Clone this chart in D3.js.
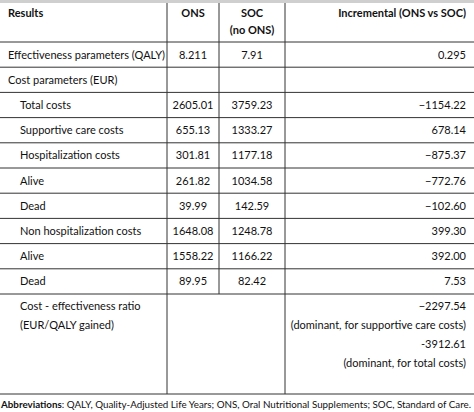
<!DOCTYPE html>
<html><head><meta charset="utf-8">
<script src="https://cdn.jsdelivr.net/npm/d3@7"></script>
<style>body{margin:0;background:#fff}text{font-family:Lato,"Open Sans",sans-serif;font-size:11px;fill:#111}</style>
</head><body><svg id="t" width="474" height="412"></svg>
<script>
"use strict";
const headers = [["Results"], ["ONS"], ["SOC", "(no ONS)"], ["Incremental (ONS vs SOC)"]];
const labels = ["Effectiveness parameters (QALY)", "Cost parameters (EUR)", "Total costs", "Supportive care costs",
  "Hospitalization costs", "Alive", "Dead", "Non hospitalization costs", "Alive", "Dead"];
const indented = [false, false, true, true, true, true, true, true, true, true];
const onsValues = ["8.211", "", "2605.01", "655.13", "301.81", "261.82", "39.99", "1648.08", "1558.22", "89.95"];
const socValues = ["7.91", "", "3759.23", "1333.27", "1177.18", "1034.58", "142.59", "1248.78", "1166.22", "82.42"];
const incValues = ["0.295", "", "\u22121154.22", "678.14", "\u2212875.37", "\u2212772.76", "\u2212102.60", "399.30", "392.00", "7.53"];
const ratioLabel = ["Cost - effectiveness ratio", "(EUR/QALY gained)"];
const ratioValues = ["\u22122297.54", "(dominant, for supportive care costs)", "-3912.61", "(dominant, for total costs)"];
const footBold = "Abbreviations";
const footText = ": QALY, Quality-Adjusted Life Years; ONS, Oral Nutritional Supplements; SOC, Standard of Care.";

const svg = d3.select('#t');
const W = 474;
const colX = [0, 167, 219, 285, W];
const headerH = 42, rowH = 25.2, ratioH = 100;
const y0 = headerH;
const rowY = d3.scaleLinear().domain([0, labels.length]).range([y0, y0 + rowH * labels.length]);
const yEnd = rowY(labels.length) + ratioH;
const line = '#333';

svg.append('rect').attr('x', 0).attr('y', 0).attr('width', W).attr('height', 3).attr('fill', '#cfcfcf');
// horizontal lines
const hs = [headerH].concat(d3.range(1, labels.length + 1).map(rowY));
svg.selectAll('line.h').data(hs).enter().append('line')
  .attr('x1', 0).attr('x2', W).attr('y1', d => d).attr('y2', d => d)
  .attr('stroke', line).attr('stroke-width', 1);
// vertical lines
[1, 3].forEach(i => svg.append('line').attr('x1', colX[i]).attr('x2', colX[i]).attr('y1', 3).attr('y2', yEnd).attr('stroke', line));
svg.append('line').attr('x1', colX[2]).attr('x2', colX[2]).attr('y1', 3).attr('y2', rowY(labels.length)).attr('stroke', line);
svg.append('line').attr('x1', 0).attr('x2', W).attr('y1', yEnd).attr('y2', yEnd).attr('stroke', line);

// header
const hx = [8, (colX[1] + colX[2]) / 2, (colX[2] + colX[3]) / 2, W - 8];
const ha = ['start', 'middle', 'middle', 'end'];
headers.forEach((h, i) => h.forEach((t, j) => svg.append('text')
  .attr('x', hx[i]).attr('y', 17 + j * 17).attr('text-anchor', ha[i]).attr('font-weight', 'bold').text(t)));

// body
labels.forEach((l, i) => {
  const cy = rowY(i) + rowH / 2 + 4;
  svg.append('text').attr('x', indented[i] ? 20 : 8).attr('y', cy).text(l);
  svg.append('text').attr('x', hx[1]).attr('y', cy).attr('text-anchor', 'middle').text(onsValues[i]);
  svg.append('text').attr('x', hx[2]).attr('y', cy).attr('text-anchor', 'middle').text(socValues[i]);
  svg.append('text').attr('x', hx[3]).attr('y', cy).attr('text-anchor', 'end').text(incValues[i]);
});
const ry = rowY(labels.length);
ratioLabel.forEach((t, j) => svg.append('text').attr('x', 20).attr('y', ry + 16 + j * 19).text(t));
ratioValues.forEach((t, j) => svg.append('text').attr('x', hx[3]).attr('y', ry + 16 + j * 19).attr('text-anchor', 'end').text(t));

const ft = svg.append('text').attr('x', 1).attr('y', yEnd + 14).style('font-size', '10px')
  .attr('textLength', 470).attr('lengthAdjust', 'spacingAndGlyphs');
ft.append('tspan').attr('font-weight', 'bold').text(footBold);
ft.append('tspan').text(footText);
</script></body></html>
